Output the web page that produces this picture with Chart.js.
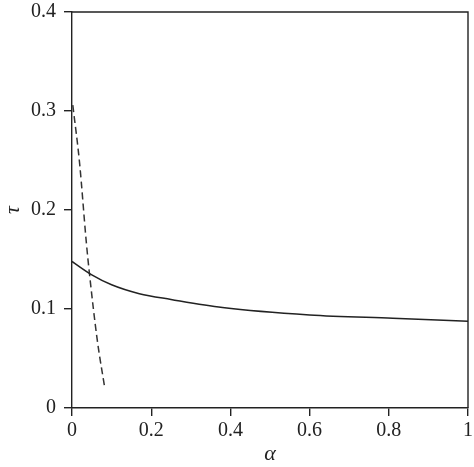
<!DOCTYPE html>
<html>
<head>
<meta charset="utf-8">
<script src="https://cdn.jsdelivr.net/npm/chart.js@4.4.0/dist/chart.umd.min.js"></script>
<style>
  html, body { margin: 0; padding: 0; background: #fff; }
  #wrap { width: 474px; height: 467px; }
</style>
</head>
<body>
<div id="wrap"><canvas id="tauChart"></canvas></div>
<script>
// data
const solidAlpha = [0, 0.05, 0.1, 0.17, 0.25, 0.38, 0.6, 0.81, 1];
const solidTau   = [0.148, 0.1345, 0.1245, 0.1155, 0.1097, 0.1015, 0.094, 0.0906, 0.0876];

const dashAlpha = [0.002, 0.019, 0.036, 0.044, 0.064, 0.082];
const dashTau   = [0.306, 0.248, 0.168, 0.136, 0.068, 0.022];

const xTicks = [0, 0.2, 0.4, 0.6, 0.8, 1];
const yTicks = [0, 0.1, 0.2, 0.3, 0.4];

const serif = "'Liberation Serif', 'DejaVu Serif', serif";

function toPoints(xs, ys) {
    return xs.map((x, i) => ({ x: x, y: ys[i] }));
}

// garis kotak atas + kanan
const frameBox = {
    id: "frameBox",
    afterDraw(chart) {
        const a = chart.chartArea;
        const c = chart.ctx;
        c.save();
        c.strokeStyle = "#222";
        c.lineWidth = 1.4;
        c.beginPath();
        c.moveTo(a.left, a.top);
        c.lineTo(a.right, a.top);
        c.lineTo(a.right, a.bottom);
        c.stroke();
        c.restore();
    }
};

new Chart(document.getElementById("tauChart").getContext("2d"), {
    type: "scatter",
    data: {
        datasets: [{
            data: toPoints(solidAlpha, solidTau),
            showLine: true,
            borderColor: "#222",
            borderWidth: 1.5,
            pointRadius: 0,
            cubicInterpolationMode: "monotone"
        }, {
            data: toPoints(dashAlpha, dashTau),
            showLine: true,
            borderColor: "#333",
            borderWidth: 1.5,
            borderDash: [7, 4],
            pointRadius: 0,
            cubicInterpolationMode: "monotone"
        }]
    },
    options: {
        responsive: true,
        maintainAspectRatio: false,
        animation: false,
        layout: {
            padding: { top: 12, right: 6, left: 0, bottom: 0 }
        },
        plugins: {
            legend: { display: false },
            tooltip: { enabled: false }
        },
        scales: {
            x: {
                type: "linear",
                min: 0,
                max: 1,
                afterFit: s => { s.height = 59; s.paddingRight = 0; s.paddingLeft = 0; },
                afterBuildTicks: s => { s.ticks = xTicks.map(v => ({ value: v })); },
                border: { display: true, color: "#222", width: 1.4 },
                grid: { drawOnChartArea: false, drawTicks: true, tickLength: 8, color: "#222", lineWidth: 1.4 },
                ticks: {
                    color: "#222",
                    padding: 3,
                    maxRotation: 0,
                    font: { family: serif, size: 20 },
                    callback: v => String(+v.toFixed(1))
                },
                title: {
                    display: true,
                    text: "α",
                    color: "#222",
                    padding: { top: 0, bottom: 0 },
                    font: { family: serif, size: 22, style: "italic" }
                }
            },
            y: {
                type: "linear",
                min: 0,
                max: 0.4,
                afterFit: s => { s.width = 72; s.paddingTop = 0; s.paddingBottom = 0; },
                afterBuildTicks: s => { s.ticks = yTicks.map(v => ({ value: v })); },
                border: { display: true, color: "#222", width: 1.4 },
                grid: { drawOnChartArea: false, drawTicks: true, tickLength: 8, color: "#222", lineWidth: 1.4 },
                ticks: {
                    color: "#222",
                    padding: 8,
                    font: { family: serif, size: 20 },
                    callback: v => String(+v.toFixed(1))
                },
                title: {
                    display: true,
                    text: "τ",
                    color: "#222",
                    padding: { top: 0, bottom: 0 },
                    font: { family: serif, size: 22, style: "italic" }
                }
            }
        }
    },
    plugins: [frameBox]
});
</script>
</body>
</html>
